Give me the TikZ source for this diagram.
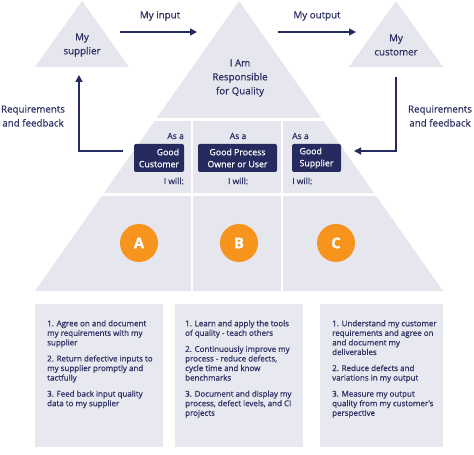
\documentclass[tikz,border=0pt]{standalone}
\usepackage{fontspec}
\setmainfont{Open Sans}[FakeBold=0.6]
\usepackage{xcolor}
\usetikzlibrary{arrows.meta}
\definecolor{pyrgray}{HTML}{E5E6EE}
\definecolor{boxgray}{HTML}{E7E8F0}
\definecolor{navy}{HTML}{252B5E}
\definecolor{navytext}{HTML}{2D3063}
\definecolor{qorange}{HTML}{F7941E}

\begin{document}
\begin{tikzpicture}
     [x=1bp, y=-1bp,
     titletext/.style={align=center, text=navytext, inner sep=0pt, font=\fontsize{9.8}{14}\selectfont},
     smalltext/.style={text=navytext, inner sep=0pt, font=\fontsize{8.6}{12}\selectfont},
     navybox/.style={rectangle, rounded corners=2bp, fill=navy, text=white, inner sep=0pt, minimum height=28bp, font=\fontsize{8.8}{12}\selectfont},
     orangeball/.style={circle, fill=qorange, text=white, inner sep=0pt, minimum size=38bp, font=\fontsize{15}{15}\selectfont\bfseries},
     listtext/.style={align=left, anchor=north west, text=navytext, inner sep=0pt, font=\fontsize{8}{9.6}\selectfont},
     gapline/.style={white, line width=2.5bp},
     flow/.style={navy, line width=1.4bp, -{Triangle[length=7bp, width=7bp]}},
     ]
 \useasboundingbox (0,0) rectangle (474,455);
 \fill[pyrgray] (239,1) -- (443,291) -- (35,291) -- cycle;
 \fill[pyrgray] (82,1) -- (129,67) -- (35,67) -- cycle;
 \fill[pyrgray] (396,1) -- (443,67) -- (349,67) -- cycle;
 \draw[gapline] (0,119.5) -- (474,119.5);
 \draw[gapline] (0,194.5) -- (474,194.5);
 \draw[gapline] (192,119) -- (192,292);
 \draw[gapline] (282,119) -- (282,292);

 \node at (82,45) [titletext] (supplier) {My\\supplier};
 \node at (396,45) [titletext] (customer) {My\\customer};
 \node at (240,78) [titletext] (me) {I Am\\Responsible\\for Quality};
 \node at (160,16) [titletext] (input) {My input};
 \node at (317,16) [titletext] (output) {My output};
 \node at (33,116) [titletext] (reqleft) {Requirements\\and feedback};
 \node at (440,116) [titletext] (reqright) {Requirements\\and feedback};

 \coordinate (in1) at (120,32);
 \coordinate (in2) at (197,32);
 \coordinate (out1) at (278,32);
 \coordinate (out2) at (356,32);
 \coordinate (fbl1) at (123,151);
 \coordinate (fbl2) at (79,75);
 \coordinate (fbr1) at (396,77);
 \coordinate (fbr2) at (354,151);
 \draw[flow] (in1) -- (in2);
 \draw[flow] (out1) -- (out2);
 \draw[flow] (fbl1) -| (fbl2);
 \draw[flow] (fbr1) |- (fbr2);

 \node at (184,136) [smalltext, anchor=east] (asa1) {As a};
 \node at (238,136) [smalltext] (asa2) {As a};
 \node at (292,136) [smalltext, anchor=west] (asa3) {As a};
 \node at (159,158) [navybox, minimum width=50bp, align=right] (role1) {Good\\Customer};
 \node at (237.5,158) [navybox, minimum width=79bp, align=center] (role2) {Good Process\\Owner or User};
 \node at (316.5,158) [navybox, minimum width=49bp, align=left] (role3) {Good\\Supplier};
 \node at (184,181) [smalltext, anchor=east] (will1) {I will:};
 \node at (238,181) [smalltext] (will2) {I will:};
 \node at (292,181) [smalltext, anchor=west] (will3) {I will:};

 \node at (139,243) [orangeball] (ballA) {A};
 \node at (239,243) [orangeball] (ballB) {B};
 \node at (336,243) [orangeball] (ballC) {C};

 \fill[boxgray] (35,304) rectangle (163,447);
 \fill[boxgray] (175,304) rectangle (303,447);
 \fill[boxgray] (320,304) rectangle (443,447);
 \node at (47,320) [listtext] (listA) {1. Agree on and document\\my requirements with my\\supplier\\[6.5bp]
  2. Return defective inputs to\\my supplier promptly and\\tactfully\\[6.5bp]
  3. Feed back input quality\\data to my supplier};
 \node at (185,320) [listtext] (listB) {1. Learn and apply the tools\\of quality - teach others\\[6.5bp]
  2. Continuously improve my\\process - reduce defects,\\cycle time and know\\benchmarks\\[6.5bp]
  3. Document and display my\\process, defect levels, and CI\\projects};
 \node at (332,320) [listtext] (listC) {1. Understand my customer\\requirements and agree on\\and document my\\deliverables\\[6.5bp]
  2. Reduce defects and\\variations in my output\\[6.5bp]
  3. Measure my output\\quality from my customer's\\perspective};
 \end{tikzpicture}
\end{document}
